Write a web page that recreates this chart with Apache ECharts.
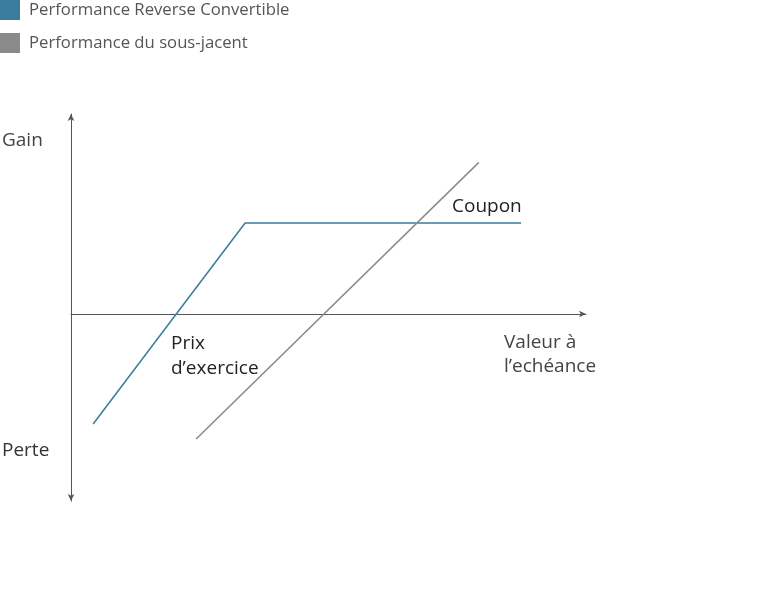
<!DOCTYPE html>
<html>
<head>
<meta charset="utf-8">
<script src="https://cdn.jsdelivr.net/npm/echarts@6/dist/echarts.min.js"></script>
<style>
  html, body { margin: 0; padding: 0; background: #fff; }
  #chart { width: 769px; height: 601px; }
</style>
</head>
<body>
<div id="chart"></div>
<script>
// Series names
const seriesNames = ['Performance Reverse Convertible', 'Performance du sous-jacent'];
// Payoff profiles in arbitrary units: [underlying value at maturity, performance]
const reverseConvertible = [[4.3, -55], [33.8, 45.5], [87.4, 45.5]];
const underlying = [[24.3, -62.5], [79.2, 75.8]];
// Axis ranges (arbitrary units)
const xRange = [0, 100];
const yRange = [-93.5, 100];
// Annotation texts
const labels = {
  gain: 'Gain',
  perte: 'Perte',
  prix: ['Prix', 'd\u2019exercice'],
  valeur: ['Valeur \u00e0', 'l\u2019ech\u00e9ance'],
  coupon: 'Coupon'
};

const FONT = '"Open Sans", "Noto Sans", sans-serif';
const txt = (text, x, y, color) => ({
  type: 'text', x: x, y: y, silent: true,
  style: { text: text, x: 0, y: 0, fill: color || '#333', font: '19px ' + FONT, verticalAlign: 'middle', align: 'left' }
});

const chart = echarts.init(document.getElementById('chart'), null, { renderer: 'canvas' });
chart.setOption({
  animation: false,
  color: ['#3b7b9c', '#8a8a8a'],
  legend: {
    orient: 'vertical', left: 0, top: 0, padding: 0, itemGap: 13,
    itemWidth: 20, itemHeight: 20, icon: 'rect',
    textStyle: { fontFamily: FONT, fontSize: 16.7, color: '#555', padding: [2, 0, 0, 4] },
    data: seriesNames
  },
  grid: { left: 71, top: 114, width: 515, height: 387, containLabel: false },
  xAxis: {
    type: 'value', min: xRange[0], max: xRange[1],
    axisLine: { show: true, onZero: true, symbol: ['none', 'arrow'], symbolSize: [5, 7], lineStyle: { color: '#555', width: 1 } },
    axisTick: { show: false }, axisLabel: { show: false }, splitLine: { show: false }
  },
  yAxis: {
    type: 'value', min: yRange[0], max: yRange[1],
    axisLine: { show: true, onZero: true, symbol: ['arrow', 'arrow'], symbolSize: [5, 7], lineStyle: { color: '#555', width: 1 } },
    axisTick: { show: false }, axisLabel: { show: false }, splitLine: { show: false }
  },
  series: [
    { name: seriesNames[0], type: 'line', data: reverseConvertible, symbol: 'none', lineStyle: { width: 1.5, color: '#3b7b9c' }, itemStyle: { color: '#3b7b9c' } },
    { name: seriesNames[1], type: 'line', data: underlying, symbol: 'none', lineStyle: { width: 1.5, color: '#8a8a8a' }, itemStyle: { color: '#8a8a8a' } }
  ],
  graphic: [
    txt(labels.gain, 2, 141, '#444'),
    txt(labels.perte, 2, 451, '#333'),
    txt(labels.prix[0], 171, 344, '#222'),
    txt(labels.prix[1], 171, 369, '#222'),
    txt(labels.valeur[0], 504, 343, '#444'),
    txt(labels.valeur[1], 504, 367, '#444'),
    txt(labels.coupon, 452, 207, '#222')
  ]
});
</script>
</body>
</html>
